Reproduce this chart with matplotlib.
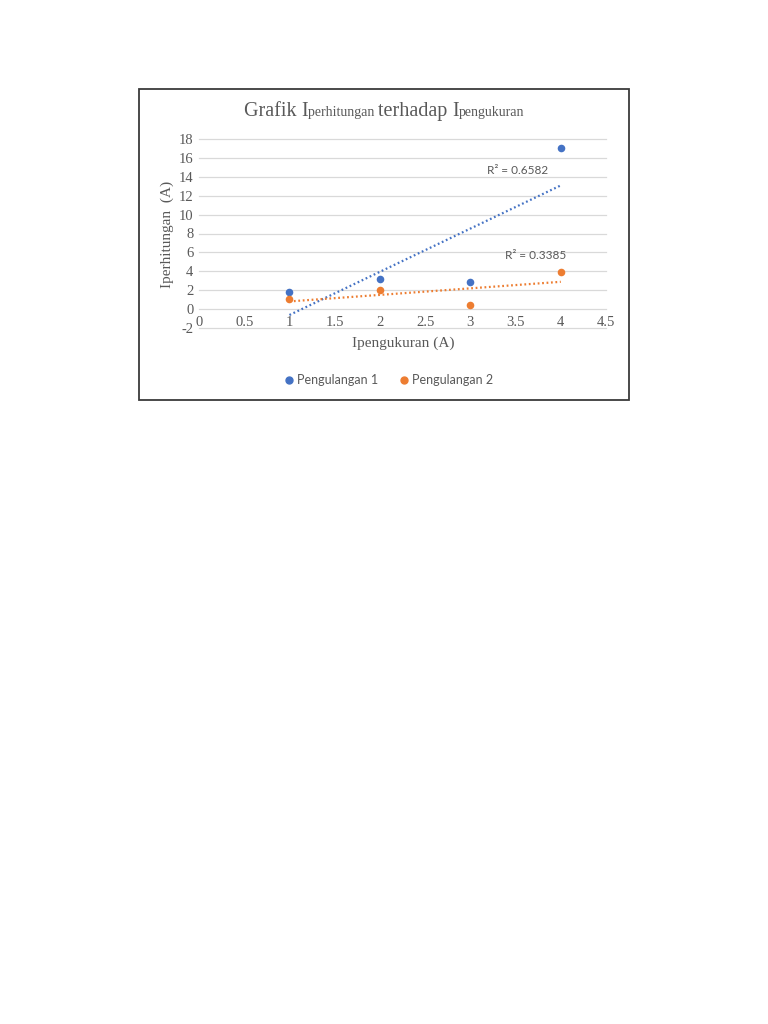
import matplotlib
matplotlib.use("Agg")
import matplotlib.pyplot as plt
import numpy as np
from matplotlib.lines import Line2D
from matplotlib.patches import Rectangle

x_vals = [1, 2, 3, 4]
pengulangan_1 = [1.77, 3.17, 2.89, 17.1]
pengulangan_2 = [1.06, 2.0, 0.46, 3.88]
series_names = ["Pengulangan 1", "Pengulangan 2"]
r2_labels = ["R\u00b2 = 0.6582", "R\u00b2 = 0.3385"]
x_ticks = [0, 0.5, 1, 1.5, 2, 2.5, 3, 3.5, 4, 4.5]
y_ticks = [-2, 0, 2, 4, 6, 8, 10, 12, 14, 16, 18]

BLUE = "#4472C4"
ORANGE = "#ED7D31"
GRAY = "#595959"
SERIF = "Liberation Serif"
SANS = "Lato"

W, H = 768, 1024
fig = plt.figure(figsize=(W / 100, H / 100), dpi=100)


def fx(px):
    return px / W


def fy(py):
    return 1 - py / H


# chart frame
fig.patches.append(Rectangle((fx(139), fy(400)), fx(629) - fx(139), fy(89) - fy(400),
                             transform=fig.transFigure, fill=False, edgecolor="#3a3a3a", lw=1.3))

ax = fig.add_axes([fx(199), fy(328), fx(606) - fx(199), fy(139) - fy(328)])
ax.set_xlim(0, 4.5)
ax.set_ylim(-2, 18)
ax.set_xticks(x_ticks)
ax.set_xticklabels([f"{t:g}" for t in x_ticks])
ax.set_yticks(y_ticks)
ax.set_yticklabels([f"{t:g}" for t in y_ticks])
for s in ax.spines.values():
    s.set_visible(False)
ax.spines["bottom"].set_position(("data", 0))
ax.tick_params(length=0, labelcolor=GRAY, labelsize=10.5)
ax.tick_params(axis="x", pad=5)
ax.tick_params(axis="y", pad=4)
for lab in ax.get_xticklabels() + ax.get_yticklabels():
    lab.set_family(SERIF)
ax.grid(axis="y", color="#D9D9D9", lw=0.9)
for gl in ax.get_ygridlines():
    gl.set_clip_on(False)
ax.set_axisbelow(True)

# points and linear trendlines
xs = np.array(x_vals, dtype=float)
for ys, col in [(pengulangan_1, BLUE), (pengulangan_2, ORANGE)]:
    ax.scatter(xs, ys, s=30, color=col, zorder=3, linewidths=0)
    k, b = np.polyfit(xs, ys, 1)
    ax.plot(xs[[0, -1]], k * xs[[0, -1]] + b, color=col, lw=1.6,
            linestyle=(0, (0.8, 1.2)), zorder=2)

ax.text(3.52, 14.7, r2_labels[0], ha="center", va="center", fontsize=8.5,
        color=GRAY, family=SANS)
ax.text(3.72, 5.7, r2_labels[1], ha="center", va="center", fontsize=8.5,
        color=GRAY, family=SANS)

# axis titles
fig.text(fx(403), fy(343), "Ipengukuran (A)", ha="center", va="center",
         fontsize=11, color=GRAY, family=SERIF)
fig.text(fx(167), fy(234), "Iperhitungan  (A)", ha="center", va="center",
         fontsize=11, color=GRAY, family=SERIF, rotation=90)

# title with smaller sub-parts
title_parts = [("Grafik ", 14.5), ("I", 14.5), ("perhitungan ", 10), ("terhadap ", 14.5),
               ("I", 14.5), ("pengukuran", 10)]
pieces = [fig.text(0, fy(116), s, fontsize=fs, va="baseline", color=GRAY, family=SERIF)
          for s, fs in title_parts]
r = fig.canvas.get_renderer()
widths = [t.get_window_extent(r).width / fig.bbox.width for t in pieces]
pos = fx(384) - sum(widths) / 2
for t, w in zip(pieces, widths):
    t.set_x(pos)
    pos += w

# legend
handles = [Line2D([], [], marker="o", ls="none", color=c, markersize=5) for c in (BLUE, ORANGE)]
fig.legend(handles, series_names, loc="center", bbox_to_anchor=(fx(388), fy(380)), ncol=2,
           frameon=False, handletextpad=0.1, columnspacing=1.6, handlelength=1,
           prop={"family": SANS, "size": 9}, labelcolor=GRAY)

fig.savefig("out.png", dpi=100, facecolor="white")
